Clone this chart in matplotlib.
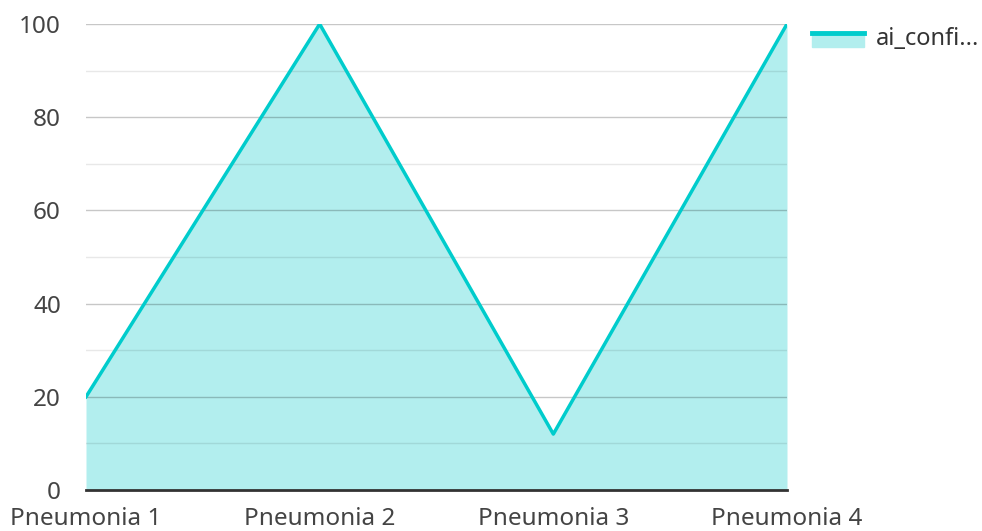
import matplotlib.pyplot as plt
from matplotlib.lines import Line2D
from matplotlib.patches import Patch
from matplotlib.legend_handler import HandlerBase

plt.rcParams['font.family'] = ['Noto Sans', 'DejaVu Sans']

categories = ["Pneumonia 1", "Pneumonia 2", "Pneumonia 3", "Pneumonia 4"]
ai_confidence = [20, 100, 12, 100]
series_name = "ai_confi..."

line_color = "#00cccc"
fill_color = "#b2eeee"

W, H = 982, 531
fig = plt.figure(figsize=(W / 100, H / 100), dpi=100)
ax = fig.add_axes([86 / W, 1 - 490 / H, (787 - 86) / W, (490 - 24) / H])

x = list(range(len(categories)))
ax.fill_between(x, ai_confidence, 0, color=fill_color, lw=0, zorder=1)
ax.plot(x, ai_confidence, color=line_color, lw=2.5, zorder=3)

ax.set_xlim(0, len(categories) - 1)
ax.set_ylim(0, 100)
ax.set_yticks(range(0, 101, 20))
ax.set_yticks(range(10, 100, 20), minor=True)
ax.set_xticks(x)
ax.set_xticklabels(categories)

ax.grid(axis='y', which='major', color='#000000', alpha=0.22, lw=1, zorder=2)
ax.grid(axis='y', which='minor', color='#000000', alpha=0.09, lw=1, zorder=2)
ax.set_axisbelow(False)
for s in ['top', 'right', 'left']:
    ax.spines[s].set_visible(False)
ax.spines['bottom'].set_color('#333333')
ax.spines['bottom'].set_linewidth(2)
ax.spines['bottom'].set_zorder(4)

ax.tick_params(axis='both', which='both', length=0, labelsize=17.5, colors='#444444')
ax.tick_params(axis='y', pad=18)
ax.tick_params(axis='x', pad=12)


class AreaHandler(HandlerBase):
    def create_artists(self, legend, orig, xd, yd, w, h, fontsize, trans):
        p = plt.Rectangle((xd, yd - 0.15 * h), w, h * 0.95, color=fill_color, transform=trans)
        l = Line2D([xd, xd + w], [yd + 0.75 * h, yd + 0.75 * h], color=line_color, lw=3.5, transform=trans)
        return [p, l]


handle = Patch(color=fill_color)
fig.legend([handle], [series_name], handler_map={Patch: AreaHandler()},
           loc='upper left', bbox_to_anchor=(812 / W, 1 - 27 / H), frameon=False,
           fontsize=17, handlelength=2.2, handleheight=0.7, handletextpad=0.5,
           labelcolor='#333333', borderaxespad=0, borderpad=0)

fig.savefig("out.png", dpi=100)
